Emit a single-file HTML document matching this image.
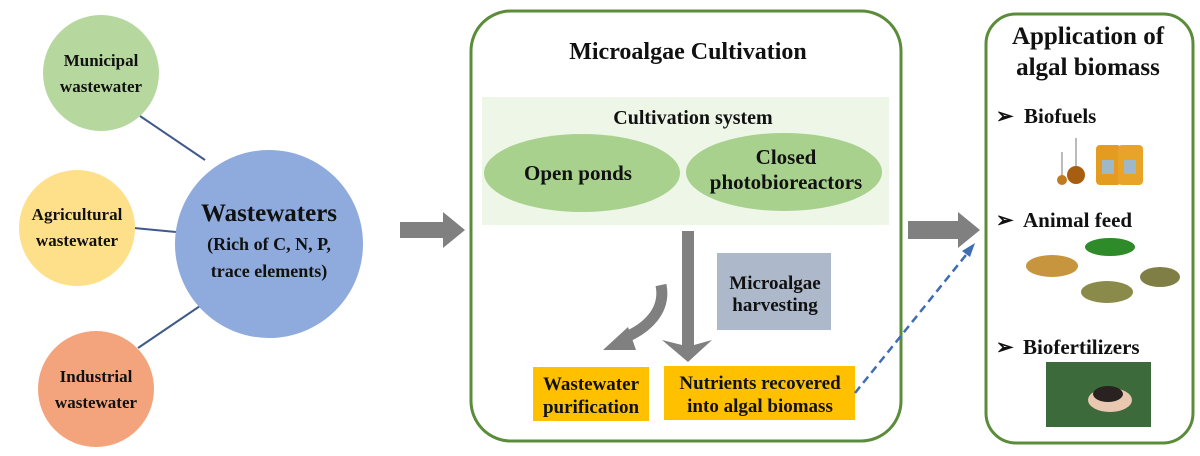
<!DOCTYPE html>
<html><head><meta charset="utf-8"><style>
html,body{margin:0;padding:0;background:#fff;}
svg{display:block;font-family:"Liberation Serif",serif;font-weight:bold;}
</style></head><body>
<svg width="1200" height="456" viewBox="0 0 1200 456" xmlns="http://www.w3.org/2000/svg">
<g stroke="#3f5a8a" stroke-width="2">
<line x1="140" y1="116" x2="205" y2="160"/>
<line x1="134" y1="228" x2="176" y2="232"/>
<line x1="138" y1="348" x2="200" y2="306"/>
</g>
<circle cx="101" cy="73" r="58" fill="#a9d18e" opacity="0.85"/>
<circle cx="77" cy="228" r="58" fill="#ffe08a"/>
<circle cx="96" cy="389" r="58" fill="#f4a47c"/>
<circle cx="269" cy="244" r="94" fill="#8faadc"/>
<g font-size="17" text-anchor="middle" fill="#111">
<text x="101" y="66">Municipal</text><text x="101" y="92">wastewater</text>
<text x="77" y="220">Agricultural</text><text x="77" y="246">wastewater</text>
<text x="96" y="382">Industrial</text><text x="96" y="408">wastewater</text>
</g>
<text x="269" y="221" font-size="25" text-anchor="middle" fill="#111">Wastewaters</text>
<g font-size="18" text-anchor="middle" fill="#111">
<text x="269" y="250">(Rich of C, N, P,</text><text x="269" y="277">trace elements)</text>
</g>
<polygon points="400,222 443,222 443,212 465,230 443,248 443,238 400,238" fill="#808080"/>
<rect x="471" y="11" width="430" height="430" rx="40" fill="#fff" stroke="#5b8c3a" stroke-width="3"/>
<text x="688" y="59" font-size="24" text-anchor="middle" fill="#111">Microalgae Cultivation</text>
<rect x="482" y="97" width="407" height="128" fill="#eef6e8"/>
<text x="693" y="124" font-size="20" text-anchor="middle" fill="#111">Cultivation system</text>
<ellipse cx="582" cy="173" rx="98" ry="39" fill="#a9d18e"/>
<ellipse cx="784" cy="172" rx="98" ry="39" fill="#a9d18e"/>
<g font-size="21" text-anchor="middle" fill="#111">
<text x="578" y="180">Open ponds</text>
<text x="786" y="164">Closed</text><text x="786" y="189">photobioreactors</text>
</g>
<polygon points="682,231 694,231 694,345 712,340 688,362 662,340 682,345" fill="#808080"/>
<path d="M661,285 C666,310 648,328 624,338" fill="none" stroke="#808080" stroke-width="11"/>
<polygon points="603,350 628,327 636,350" fill="#808080"/>
<rect x="717" y="253" width="114" height="77" fill="#adb9ca"/>
<g font-size="19" text-anchor="middle" fill="#111">
<text x="775" y="289">Microalgae</text><text x="775" y="311">harvesting</text>
</g>
<rect x="533" y="367" width="116" height="54" fill="#ffc000"/>
<rect x="664" y="366" width="191" height="54" fill="#ffc000"/>
<g font-size="19" text-anchor="middle" fill="#111">
<text x="591" y="390">Wastewater</text><text x="591" y="413">purification</text>
<text x="760" y="389">Nutrients recovered</text><text x="760" y="412">into algal biomass</text>
</g>
<line x1="855" y1="393" x2="970" y2="250" stroke="#3f6db3" stroke-width="2.5" stroke-dasharray="8,5"/>
<polygon points="975,243 962,251 970,257" fill="#3f6db3"/>
<polygon points="908,221 958,221 958,212 980,230 958,248 958,239 908,239" fill="#808080"/>
<rect x="986" y="14" width="207" height="429" rx="30" fill="#fff" stroke="#5b8c3a" stroke-width="3"/>
<g font-size="25" text-anchor="middle" fill="#111">
<text x="1088" y="44">Application of</text><text x="1088" y="75">algal biomass</text>
</g>
<g font-size="21" fill="#111">
<text x="996" y="123">➢</text><text x="1024" y="123">Biofuels</text>
<text x="996" y="227">➢</text><text x="1023" y="227">Animal feed</text>
<text x="996" y="354">➢</text><text x="1023" y="354">Biofertilizers</text>
</g>
<line x1="1062" y1="152" x2="1062" y2="176" stroke="#bbb" stroke-width="2"/>
<circle cx="1062" cy="180" r="5" fill="#c07a20"/>
<line x1="1076" y1="138" x2="1076" y2="168" stroke="#bbb" stroke-width="2"/>
<circle cx="1076" cy="175" r="9" fill="#a85e10"/>
<rect x="1096" y="145" width="25" height="40" rx="4" fill="#e49c20"/>
<rect x="1118" y="145" width="25" height="40" rx="4" fill="#e8a428"/>
<rect x="1102" y="160" width="12" height="14" fill="#9fb8c8"/>
<rect x="1124" y="160" width="12" height="14" fill="#9fb8c8"/>
<ellipse cx="1052" cy="266" rx="26" ry="11" fill="#c8953f"/>
<ellipse cx="1110" cy="247" rx="25" ry="9" fill="#2f8a2a"/>
<ellipse cx="1107" cy="292" rx="26" ry="11" fill="#8a8a4a"/>
<ellipse cx="1160" cy="277" rx="20" ry="10" fill="#7f7f45"/>
<rect x="1046" y="362" width="105" height="65" fill="#3d6a3a"/>
<ellipse cx="1110" cy="400" rx="22" ry="12" fill="#e8c8b0"/>
<ellipse cx="1108" cy="394" rx="15" ry="8" fill="#2a2220"/>
</svg>
</body></html>
